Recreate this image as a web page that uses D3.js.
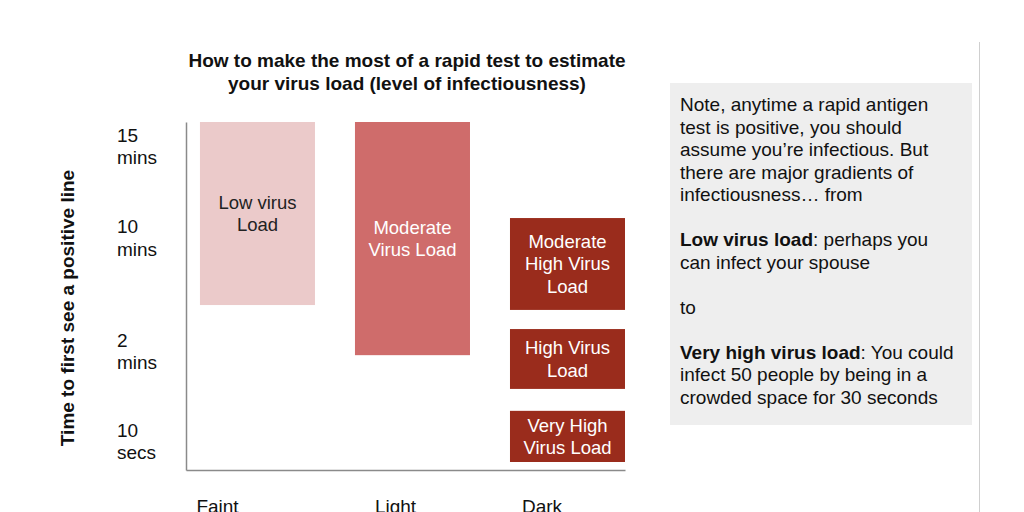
<!DOCTYPE html>
<html>
<head>
<meta charset="utf-8">
<script src="https://cdn.jsdelivr.net/npm/d3@7"></script>
<style>
  body { margin: 0; background: #fff; }
  svg { display: block; font-family: "Liberation Sans", Arial, sans-serif; }
</style>
</head>
<body>
<div id="chart"></div>
<script>
// Line strength categories (x) and the load boxes drawn in them
var categories = ['Faint', 'Light', 'Dark']
var boxCategory = ['Faint', 'Light', 'Dark', 'Dark', 'Dark']
var boxLabels = [
  ['Low virus', 'Load'],
  ['Moderate', 'Virus Load'],
  ['Moderate', 'High Virus', 'Load'],
  ['High Virus', 'Load'],
  ['Very High', 'Virus Load']
]
// Box extent on the "time to positive line" level axis (0 = instant, 10 = 15+ mins)
var boxTop = [10, 10, 7.24, 4.05, 1.7]
var boxBottom = [4.74, 3.3, 4.6, 2.33, 0.23]

// Y tick labels and where they sit on the level axis
var tickValues = [9.3, 6.68, 3.41, 0.82]
var tickLabels = [['15', 'mins'], ['10', 'mins'], ['2', 'mins'], ['10', 'secs']]

var titleLines = [
  'How to make the most of a rapid test to estimate',
  'your virus load (level of infectiousness)'
]
var yTitle = 'Time to first see a positive line'

// Note panel, each line is a list of [text, bold] runs
var noteLines = [
  [['Note, anytime a rapid antigen', false]],
  [['test is positive, you should', false]],
  [['assume you\u2019re infectious. But', false]],
  [['there are major gradients of', false]],
  [['infectiousness\u2026 from', false]],
  [],
  [['Low virus load', true], [': perhaps you', false]],
  [['can infect your spouse', false]],
  [],
  [['to', false]],
  [],
  [['Very high virus load', true], [': You could', false]],
  [['infect 50 people by being in a', false]],
  [['crowded space for 30 seconds', false]]
]

var width = 1024
var height = 512

// Plot area
var dims = {
  left: 186,
  top: 122,
  innerWidth: 439,
  innerHeight: 348
}

var svg = d3
  .select('#chart')
  .append('svg')
  .attr('width', width)
  .attr('height', height)

// Scales
var xScale = d3
  .scaleBand()
  .domain(categories)
  .range([0, dims.innerWidth])
  .paddingInner(0.258)
  .paddingOuter(0.045)
  .align(1)

var yScale = d3
  .scaleLinear()
  .domain([0, 10])
  .range([dims.innerHeight, 0])

var color = d3
  .scaleOrdinal()
  .domain(categories)
  .range(['#ebcaca', '#cf6c6b', '#9a2c1c'])

var labelColor = d3
  .scaleOrdinal()
  .domain(categories)
  .range(['#222', '#fff', '#fff'])

// Title
svg
  .append('text')
  .attr('x', 407)
  .attr('y', 67)
  .attr('text-anchor', 'middle')
  .style('font-size', '19px')
  .style('font-weight', 'bold')
  .style('fill', '#111')
  .selectAll('tspan')
  .data(titleLines)
  .enter()
  .append('tspan')
  .attr('x', 407)
  .attr('dy', function(d, i) { return i === 0 ? 0 : 23 })
  .text(function(d) { return d })

var plot = svg
  .append('g')
  .attr('transform', 'translate(' + dims.left + ',' + dims.top + ')')

// Boxes
var boxes = boxCategory.map(function(c, i) {
  return { cat: c, top: boxTop[i], bottom: boxBottom[i], label: boxLabels[i] }
})

plot
  .selectAll('.box')
  .data(boxes)
  .enter()
  .append('rect')
  .attr('class', 'box')
  .attr('x', function(d) { return xScale(d.cat) })
  .attr('width', xScale.bandwidth())
  .attr('y', function(d) { return yScale(d.top) })
  .attr('height', function(d) { return yScale(d.bottom) - yScale(d.top) })
  .style('fill', function(d) { return color(d.cat) })

var lineH = 22.5
plot
  .selectAll('.box-label')
  .data(boxes)
  .enter()
  .append('text')
  .attr('class', 'box-label')
  .attr('text-anchor', 'middle')
  .style('font-size', '18.5px')
  .style('fill', function(d) { return labelColor(d.cat) })
  .each(function(d) {
    var cx = xScale(d.cat) + xScale.bandwidth() / 2
    var cy = (yScale(d.top) + yScale(d.bottom)) / 2
    var n = d.label.length
    d3.select(this)
      .selectAll('tspan')
      .data(d.label)
      .enter()
      .append('tspan')
      .attr('x', cx)
      .attr('y', function(t, i) { return cy + (i - (n - 1) / 2) * lineH + 6.5 })
      .text(function(t) { return t })
  })

// Axes lines (no ticks, just the frame on the left and bottom)
var yAxis = d3
  .axisLeft(yScale)
  .tickValues(tickValues)
  .tickSize(0)
  .tickPadding(69)
  .tickFormat('')

var yAxisG = plot.append('g').attr('class', 'axis axis-y').call(yAxis)
yAxisG.select('.domain').attr('stroke', '#8a8a8a').attr('stroke-width', 1.5)

// two-line tick labels, left aligned
yAxisG
  .selectAll('.tick')
  .each(function(d, i) {
    var t = d3.select(this).select('text')
    t.attr('text-anchor', 'start')
      .attr('x', -69)
      .attr('dy', null)
      .style('font-size', '19px')
      .style('font-family', '"Liberation Sans", Arial, sans-serif')
      .style('fill', '#111')
    t.selectAll('tspan')
      .data(tickLabels[i])
      .enter()
      .append('tspan')
      .attr('x', -69)
      .attr('y', function(s, j) { return j === 0 ? -5 : 17.5 })
      .text(function(s) { return s })
  })

var xAxis = d3.axisBottom(xScale).tickSize(0).tickFormat('')
var xAxisG = plot
  .append('g')
  .attr('class', 'axis axis-x')
  .attr('transform', 'translate(0,' + dims.innerHeight + ')')
  .call(xAxis)
xAxisG.select('.domain').attr('stroke', '#8a8a8a').attr('stroke-width', 1.5)

// x category labels sit slightly left of the boxes
var xLabelPos = d3
  .scaleOrdinal()
  .domain(categories)
  .range([31.5, 209.5, 356])

plot
  .selectAll('.x-label')
  .data(categories)
  .enter()
  .append('text')
  .attr('class', 'x-label')
  .attr('x', function(d) { return xLabelPos(d) })
  .attr('y', dims.innerHeight + 43)
  .attr('text-anchor', 'middle')
  .style('font-size', '19px')
  .style('fill', '#111')
  .text(function(d) { return d })

// y axis title
svg
  .append('text')
  .attr('transform', 'translate(74,308) rotate(-90)')
  .attr('text-anchor', 'middle')
  .style('font-size', '19px')
  .style('font-weight', 'bold')
  .style('fill', '#111')
  .text(yTitle)

// Note panel
svg
  .append('rect')
  .attr('x', 670)
  .attr('y', 83)
  .attr('width', 302)
  .attr('height', 342)
  .style('fill', '#eeeeee')

var note = svg
  .append('text')
  .style('font-size', '19px')
  .style('fill', '#111')

noteLines.forEach(function(runs, i) {
  runs.forEach(function(r, j) {
    var span = note.append('tspan').text(r[0])
    if (j === 0) span.attr('x', 680).attr('y', 111 + i * lineH)
    if (r[1]) span.style('font-weight', 'bold')
  })
})

// thin separator on the right edge
svg
  .append('line')
  .attr('x1', 979.5)
  .attr('x2', 979.5)
  .attr('y1', 42)
  .attr('y2', height)
  .style('stroke', '#cfcfcf')
  .style('stroke-width', 1)
</script>
</body>
</html>
